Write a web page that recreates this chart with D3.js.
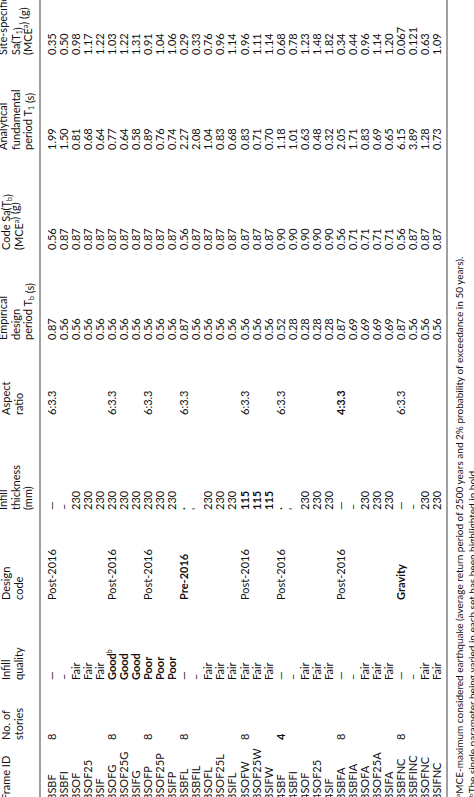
<!DOCTYPE html>
<html><head><meta charset="utf-8">
<script src="https://cdn.jsdelivr.net/npm/d3@7"></script>
<style>body{margin:0;background:#fff}svg{display:block}text{font-family:Lato,"Open Sans",sans-serif;fill:#111}</style>
</head><body>
<script>
const frameIds = ["8SBF","8SBFI","8SOF","8SOF25","8SIF","8SOFG","8SOF25G","8SIFG","8SOFP","8SOF25P","8SIFP","8SBFL","8SBFIL","8SOFL","8SOF25L","8SIFL","8SOFW","8SOF25W","8SIFW","4SBF","4SBFI","4SOF","4SOF25","4SIF","8SBFA","8SBFIA","8SOFA","8SOF25A","8SIFA","8SBFNC","8SBFINC","8SOFNC","8SIFNC"];
const stories = ["8","","","","","8","","","8","","","8","","","","","8","","","4","","","","","8","","","","","8","","",""];
const quality = ["—","–","Fair","Fair","Fair","Good","Good","Good","Poor","Poor","Poor","—","–","Fair","Fair","Fair","Fair","Fair","Fair","—","–","Fair","Fair","Fair","—","–","Fair","Fair","Fair","—","–","Fair","Fair"];
const designCode = ["Post-2016","","","","","Post-2016","","","Post-2016","","","Pre-2016","","","","","Post-2016","","","Post-2016","","","","","Post-2016","","","","","Gravity","","",""];
const thickness = ["—","–","230","230","230","230","230","230","230","230","230","·","'","230","230","230","115","115","115","·","'","230","230","230","—","–","230","230","230","—","–","230","230"];
const aspect = ["6:3.3","","","","","6:3.3","","","6:3.3","","","6:3.3","","","","","6:3.3","","","6:3.3","","","","","4:3.3","","","","","6:3.3","","",""];
const empiricalTb = ["0.87","0.56","0.56","0.56","0.56","0.56","0.56","0.56","0.56","0.56","0.56","0.87","0.56","0.56","0.56","0.56","0.56","0.56","0.56","0.52","0.28","0.28","0.28","0.28","0.87","0.69","0.69","0.69","0.69","0.87","0.56","0.56","0.56"];
const codeSa = ["0.56","0.87","0.87","0.87","0.87","0.87","0.87","0.87","0.87","0.87","0.87","0.56","0.87","0.87","0.87","0.87","0.87","0.87","0.87","0.90","0.90","0.90","0.90","0.90","0.56","0.71","0.71","0.71","0.71","0.56","0.87","0.87","0.87"];
const analyticalT1 = ["1.99","1.50","0.81","0.68","0.64","0.77","0.64","0.58","0.89","0.76","0.74","2.27","2.08","1.04","0.83","0.68","0.83","0.71","0.70","1.18","1.01","0.63","0.48","0.32","2.05","1.71","0.83","0.69","0.65","6.15","3.89","1.28","0.73"];
const siteSa = ["0.35","0.50","0.98","1.17","1.22","1.03","1.22","1.31","0.91","1.04","1.06","0.29","0.33","0.76","0.96","1.14","0.96","1.11","1.14","0.68","0.78","1.23","1.48","1.82","0.34","0.44","0.96","1.14","1.20","0.067","0.121","0.63","1.09"];
// bold flags (highlighted parameter)
const boldQuality = [5,6,7,8,9,10], boldCode=[11,29], boldThick=[16,17,18], boldStories=[19], boldAspect=[24];

const W=474,H=797;
const svg=d3.select("body").append("svg").attr("width",W).attr("height",H);
const g=svg.append("g").attr("transform",`translate(0,${H}) rotate(-90)`);
const rowScale=d3.scalePoint().domain(d3.range(frameIds.length)).range([56,441]);

const cols=[
 {u:-3,data:frameIds,bold:[],head:[["Frame ID"]]},
 {u:57,data:stories,bold:boldStories,head:[["No. of"],["stories"]]},
 {u:117,data:quality,bold:boldQuality,head:[["Infill"],["quality"]]},
 {u:197,data:designCode,bold:boldCode,head:[["Design"],["code"]]},
 {u:287,data:thickness,bold:boldThick,head:[["Infill"],["thickness"],["(mm)"]]},
 {u:382,data:aspect,bold:boldAspect,head:[["Aspect"],["ratio"]]},
 {u:457,data:empiricalTb,bold:[],head:[["Empirical"],["design"],["period T",["b","sub"]," (s)"]]},
 {u:547,data:codeSa,bold:[],head:[["Code Sa(T",["b","sub"],")"],["(MCE",["a","sup"],") (g)"]]},
 {u:647,data:analyticalT1,bold:[],head:[["Analytical"],["fundamental"],["period T",["1","sub"]," (s)"]]},
 {u:742,data:siteSa,bold:[],head:[["Site-specific"],["Sa(T",["1","sub"],")"],["(MCE",["a","sup"],") (g)"]]}
];
const fs=11;
function addParts(t,parts,small){
  parts.forEach(p=>{
    if(typeof p==="string") t.append("tspan").text(p);
    else { t.append("tspan").attr("font-size",7).attr("dy",p[1]==="sub"?2:-4).text(p[0]);
           t.append("tspan").attr("dy",p[1]==="sub"?-2:4).text(""); }
  });
}
cols.forEach(c=>{
  const first = c.head.length===3?7:10;
  c.head.forEach((line,i)=>{
    const t=g.append("text").attr("x",c.u).attr("y",first+i*12.5).attr("font-size",fs);
    addParts(t,line);
  });
  g.selectAll(null).data(c.data).join("text")
    .attr("x",c.u).attr("y",(d,i)=>rowScale(i)).attr("font-size",fs)
    .attr("font-weight",(d,i)=>c.bold.includes(i)?"bold":null)
    .each(function(d,i){
      const t=d3.select(this);
      t.append("tspan").text(d);
      if(c.data===quality && i===5){t.append("tspan").attr("font-size",7).attr("font-weight","normal").attr("dy",-4).text("b");}
    });
});
// rules
[40,447].forEach(v=>g.append("line").attr("x1",-5).attr("x2",H+5).attr("y1",v).attr("y2",v).attr("stroke","#888").attr("stroke-width",1.6));
// footnotes
const f1=g.append("text").attr("x",0).attr("y",463).attr("font-size",10);
f1.append("tspan").attr("font-size",6.5).attr("dy",-3).text("a");
f1.append("tspan").attr("dy",3).text("MCE-maximum considered earthquake (average return period of 2500 years and 2% probability of exceedance in 50 years).");
const f2=g.append("text").attr("x",0).attr("y",476).attr("font-size",10);
f2.append("tspan").attr("font-size",6.5).attr("dy",-3).text("b");
f2.append("tspan").attr("dy",3).text("The single parameter being varied in each set has been highlighted in bold.");
</script>
</body></html>
